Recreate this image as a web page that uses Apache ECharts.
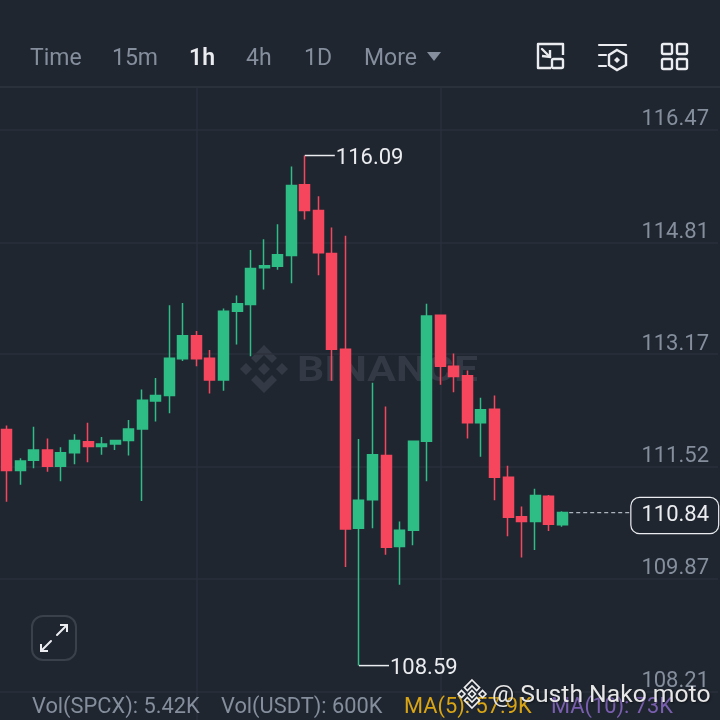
<!DOCTYPE html>
<html><head><meta charset="utf-8">
<style>html,body{margin:0;padding:0;background:#1f2630}#c{width:720px;height:720px}</style>
<script src="https://cdn.jsdelivr.net/npm/echarts@6/dist/echarts.min.js"></script>
</head><body><div id="c"></div>
<script>
const opens = [112.06,111.46,111.61,111.76,111.52,111.72,111.88,111.81,111.85,111.90,112.07,112.48,112.56,113.10,113.44,113.11,112.79,113.80,113.90,114.44,114.46,114.62,115.66,115.28,114.65,113.24,110.61,111.03,111.68,110.34,110.58,111.89,113.74,112.99,112.85,112.16,112.36,111.36,110.78,110.71,111.08,110.66];
const closes = [111.46,111.60,111.76,111.52,111.72,111.90,111.81,111.85,111.90,112.07,112.49,112.56,113.11,113.44,113.10,112.79,113.80,113.91,114.43,114.47,114.63,115.65,115.28,114.66,113.24,110.60,111.02,111.69,110.33,110.58,111.89,113.73,112.99,112.84,112.16,112.35,111.36,110.77,110.71,111.09,110.67,110.84];
const lows = [111.00,111.25,111.49,111.44,111.30,111.55,111.58,111.69,111.76,111.68,111.01,112.18,112.30,113.07,112.99,112.59,112.63,113.31,113.14,114.12,114.41,114.21,115.15,114.33,112.78,110.04,108.59,110.61,110.22,109.78,110.36,111.30,112.72,112.61,111.93,111.66,111.02,110.49,110.18,110.29,110.57,110.63];
const highs = [112.12,111.64,112.10,111.93,111.80,111.99,112.16,111.95,111.91,112.20,112.65,112.82,113.89,113.92,113.51,113.23,113.84,114.03,114.70,114.86,115.08,115.93,116.09,115.49,115.03,114.91,111.92,112.75,112.40,110.71,111.90,113.91,113.74,113.18,112.93,112.53,112.56,111.53,110.93,111.19,111.10,110.86];
const priceTicks = [108.21,109.87,111.52,113.17,114.81,116.47];
const categories = Array.from({length:53},(_, i)=>'c'+i);
const verticalGrid = ['c14','c32'];
const lastPrice = 110.84;
const priceLine = categories.map((_, i)=> (i>=41 && i<=46) ? lastPrice : null);
const tabs = [['Time',30,'#848e9c',400],['15m',112,'#848e9c',400],['1h',189,'#eaecef',600],['4h',246,'#848e9c',400],['1D',304,'#848e9c',400],['More',364,'#848e9c',400]];
const footer = [['Vol(SPCX): 5.42K',32,'#848e9c'],['Vol(USDT): 600K',221,'#848e9c'],['MA(5): 57.9K',404,'#d9a514'],['MA(10): 73K',551,'#7a5fb0']];

const BG='#1f2630', GRID='#2b313b', FONT='Roboto', ICON='#eaecef';
function logo(cx,cy,r,style,z){
  const s=r/24, P=(a)=>a.map(p=>[cx+p[0]*s,cy+p[1]*s]);
  const shapes=[
    [[0,-24],[13,-11],[8,-6],[0,-14],[-8,-6],[-13,-11]],
    [[0,24],[13,11],[8,6],[0,14],[-8,6],[-13,11]],
    [[-24,0],[-18,-6],[-12,0],[-18,6]],
    [[24,0],[18,-6],[12,0],[18,6]],
    [[0,-6],[6,0],[0,6],[-6,0]]
  ];
  return shapes.map(a=>({type:'polygon',shape:{points:P(a)},style,z,silent:true}));
}
const line=(x1,y1,x2,y2,stroke,w,z)=>({type:'line',shape:{x1,y1,x2,y2},style:{stroke,lineWidth:w,lineCap:'round'},z:z||5,silent:true});
const ir={fill:'none',stroke:ICON,lineWidth:2.4};
const rrect=(x,y,w,h,r,st)=>({type:'rect',shape:{x,y,width:w,height:h,r},style:st,z:5,silent:true});
const graphics=[
  line(0,87,720,87,'#2b313b',2),
  ...tabs.map(t=>({type:'text',x:t[1],y:59,style:{text:t[0],fill:t[2],font:`${t[3]} 23px ${FONT}`,verticalAlign:'middle'},z:5,silent:true})),
  {type:'polygon',shape:{points:[[427,52],[441,52],[434,61]]},style:{fill:'#848e9c'},z:5,silent:true},
  {type:'polyline',shape:{points:[[551,68],[538,68],[538,44],[563,44],[563,55]]},style:{...ir,lineJoin:'round'},z:5,silent:true},
  rrect(552,59,11,9,1.5,ir),
  line(542,49,550,57,ICON,2.4), {type:'polyline',shape:{points:[[542,56],[550,57],[550,50]]},style:ir,z:5,silent:true},
  line(599,45,626,45,ICON,2.2), line(599,55,606,55,ICON,2.2), line(599,66,606,66,ICON,2.2),
  {type:'polygon',shape:{points:[[617,52],[626,57],[626,67],[617,72],[609,67],[609,57]].map(p=>[p[0],p[1]-2])},style:ir,z:5,silent:true},
  {type:'polygon',shape:{points:[[617,57],[620,60],[617,63],[614,60]]},style:{fill:ICON},z:5,silent:true},
  rrect(662,44,10,10,1.5,ir), rrect(677,44,10,10,1.5,ir), rrect(662,59,10,10,1.5,ir), rrect(677,59,10,10,1.5,ir),
  rrect(32,616,44,44,11,{fill:'none',stroke:'#3a414b',lineWidth:2}),
  line(57,635,67,625,'#eaecef',2), {type:'polyline',shape:{points:[[60,625],[67,625],[67,632]]},style:{fill:'none',stroke:'#eaecef',lineWidth:2},z:5,silent:true},
  line(41,651,51,641,'#eaecef',2), {type:'polyline',shape:{points:[[41,644],[41,651],[48,651]]},style:{fill:'none',stroke:'#eaecef',lineWidth:2},z:5,silent:true},
  ...logo(264,369,24,{fill:'#343a45'},0),
  {type:'text',x:297,y:372,scaleX:1.22,style:{text:'BINANCE',fill:'#343a45',font:`700 35px ${FONT}`,verticalAlign:'middle'},z:0,silent:true},
  ...footer.map(t=>({type:'text',x:t[1],y:708,style:{text:t[0],fill:t[2],font:`400 21.8px ${FONT}`,verticalAlign:'middle'},z:5,silent:true})),
  ...logo(472,694,14,{fill:'none',stroke:'#f0f0f0',lineWidth:1.6},6),
  {type:'text',x:492,y:696,style:{text:'@ Susth Nako moto',fill:'#e6e6e6',font:`400 24.7px ${FONT}`,verticalAlign:'middle',textShadowColor:'rgba(0,0,0,.5)',textShadowBlur:2,textShadowOffsetX:1,textShadowOffsetY:1},z:6,silent:true}
];
const extreme=(idx,val)=>({coord:[categories[idx],val],value:val});
const chart=echarts.init(document.getElementById('c'),null,{renderer:'canvas'});
chart.setOption({
  animation:false,
  backgroundColor:BG,
  grid:{left:0,right:2,top:87.5,bottom:0},
  xAxis:{type:'category',data:categories,boundaryGap:true,axisLine:{show:false},axisTick:{show:false},axisLabel:{show:false},splitLine:{show:false}},
  yAxis:{type:'value',position:'right',min:107.79,max:117.09,scale:true,
    axisLine:{show:false},
    axisTick:{show:false,customValues:priceTicks},
    axisLabel:{inside:true,margin:9,customValues:priceTicks,formatter:v=>v.toFixed(2),color:'#848e9c',fontFamily:FONT,fontSize:22,align:'right',verticalAlign:'bottom',lineHeight:20},
    splitLine:{show:true,lineStyle:{color:GRID,width:1.5}}},
  graphic:{elements:graphics},
  series:[
    {type:'line',data:[],z:1,silent:true,markLine:{z:1,silent:true,symbol:'none',animation:false,label:{show:false},lineStyle:{color:GRID,width:1.5,type:'solid'},data:verticalGrid.map(c=>({xAxis:c}))}},
    {type:'candlestick',z:3,barWidth:10.5,silent:true,
      data:opens.map((o,i)=>[o,closes[i],lows[i],highs[i]]),
      itemStyle:{color:'#2ebd85',color0:'#f6465d',borderColor:'#2ebd85',borderColor0:'#f6465d',borderWidth:1.5},
      markPoint:{silent:true,animation:false,symbol:'rect',symbolSize:[30,1.5],symbolOffset:[15,0],itemStyle:{color:'#eaecef'},
        label:{show:true,position:'right',distance:1,offset:[0,2.5],color:'#eaecef',fontFamily:FONT,fontSize:22,formatter:p=>p.value.toFixed(2)},
        data:[extreme(22,116.09),extreme(26,108.59)]}},
    {type:'line',z:2,data:priceLine,symbol:'none',silent:true,connectNulls:false,lineStyle:{color:'#aeb4bc',width:1.2,type:[4,3]},
      markPoint:{silent:true,animation:false,symbol:'circle',symbolSize:1,itemStyle:{color:'transparent'},
        label:{show:true,position:'right',distance:1,offset:[0,3],color:'#eaecef',fontFamily:FONT,fontSize:22,backgroundColor:BG,borderColor:'#eaecef',borderWidth:1.2,borderRadius:8,padding:[7,9,6,10],formatter:p=>p.value.toFixed(2)},
        data:[extreme(46,lastPrice)]}}
  ]
});
</script></body></html>
